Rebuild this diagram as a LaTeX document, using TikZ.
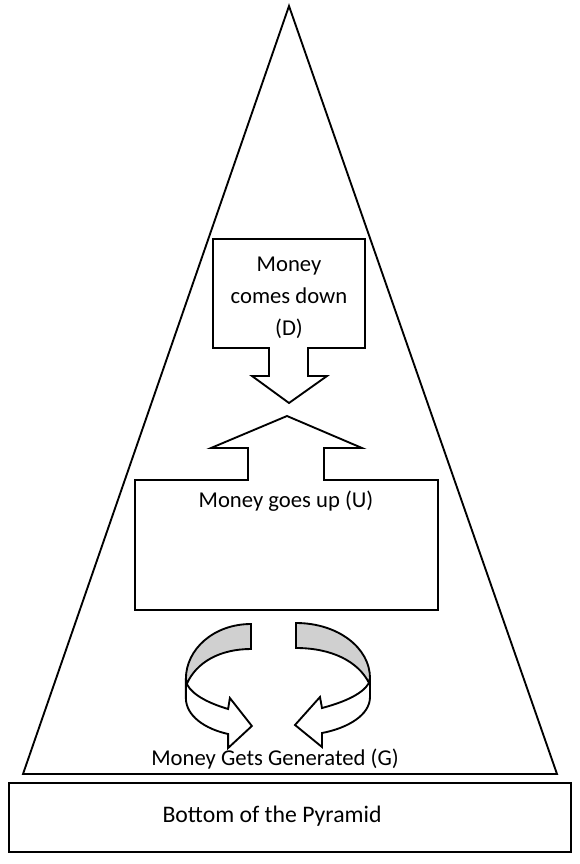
\documentclass[tikz,border=0pt]{standalone}
\usepackage{tikz}
\usepackage{xcolor}
\usepackage{fontspec}
\setmainfont{Carlito}
\definecolor{bandgray}{RGB}{208,208,208}
\tikzset{
	moneytext/.style={font=\fontsize{17}{24}\selectfont, align=center, inner sep=0pt},
	shapeline/.style={line width=1.4pt, line join=miter}
}
\newcommand{\genarrow}[3]{
% one of the two curled arrows above the base,
% #1 and #2 give the top end of the band, #3 the x scale
% (a negative one turns the arrow to the left)
\begin{scope}[shift={(#1, #2)}, xscale=#3]
	\def\band{25}
	\def\side{74}
	% back part of the band, the inside is seen
	\draw[shapeline, fill=bandgray] (0, 0) .. controls (42, 0) and (\side, 25) .. (\side, 55) -- (\side-1, 60) .. controls (62, 38) and (35, \band) .. (0, \band) -- cycle;
	% front part of the band with the head
	\draw[shapeline, fill=white] (\side, 55) -- (\side, 74) .. controls (\side, 92) and (52, 105) .. (26, 110) -- (26, 124) -- (-1, 102) -- (24, 74) -- (26, 85) .. controls (45, 80) and (66, 72) .. (\side-1, 60) -- cycle;
\end{scope}
}
\begin{document}
\begin{tikzpicture}[x=0.75pt, y=-0.75pt]
\useasboundingbox (0, 0) rectangle (579, 864);

% the pyramid
\draw[shapeline] (289, 6) -- (557, 774) -- (23, 774) -- cycle;

% box with the arrow going down
\draw[shapeline] (213, 239) -- (365, 239) -- (365, 348) -- (308, 348) -- (308, 376) -- (327, 376) -- (289, 403) -- (252, 376) -- (269, 376) -- (269, 348) -- (213, 348) -- cycle;
% base of a node with three lines is the one of the last line
\node[moneytext, anchor=base] (down) at (289, 335) {Money\\comes down\\(D)};

% box with the arrow going up
\draw[shapeline] (135, 610) -- (135, 480) -- (248, 480) -- (248, 448) -- (211, 448) -- (287, 416) -- (362, 448) -- (324, 448) -- (324, 480) -- (438, 480) -- (438, 610) -- cycle;
\node[moneytext, anchor=base] (up) at (286, 507) {Money goes up (U)};

% the two curled arrows
\genarrow{251}{624}{-0.88}
\genarrow{296}{623}{1}
\node[moneytext, anchor=base] (gen) at (275, 765) {Money Gets Generated (G)};

% the base
\draw[shapeline] (9, 783) rectangle (571, 852);
\node[moneytext, anchor=base, font=\fontsize{17.8}{24}\selectfont] (bottom) at (272, 822) {Bottom of the Pyramid};

\end{tikzpicture}
\end{document}
